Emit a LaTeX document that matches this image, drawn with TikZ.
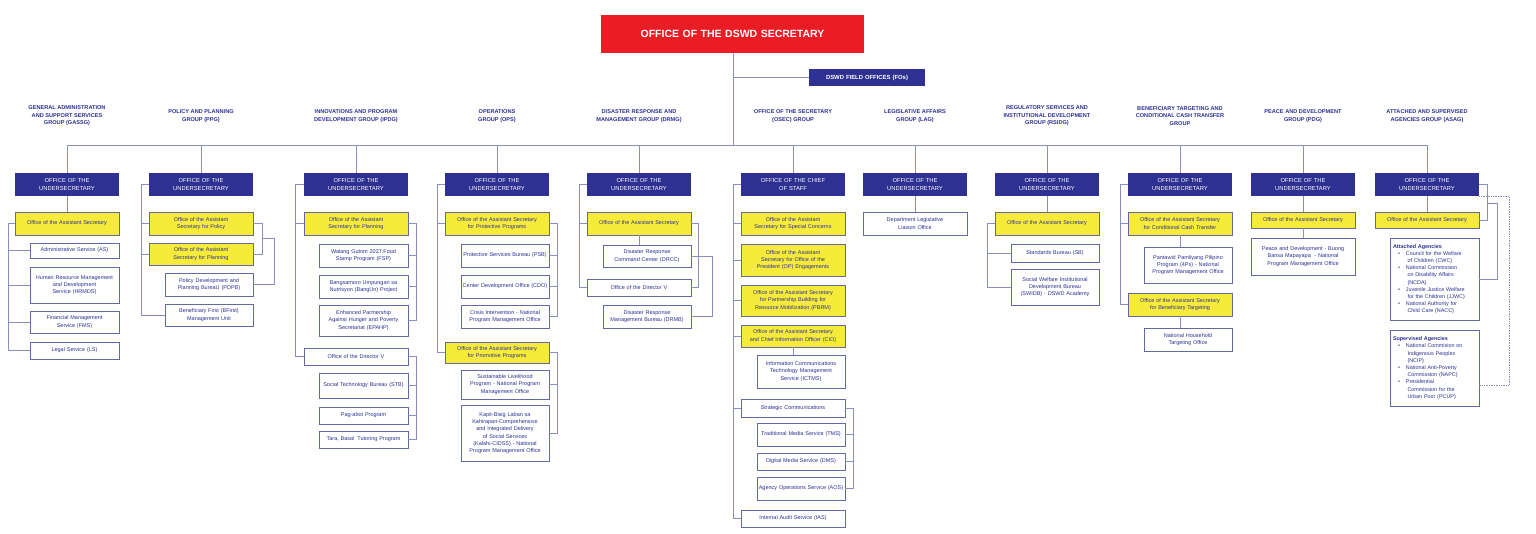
\documentclass[tikz,border=0pt]{standalone}
\usepackage{fontspec}
\setmainfont{Liberation Sans}
\usetikzlibrary{calc}
\hyphenpenalty10000\relax \exhyphenpenalty10000\relax
\newcommand\nohy{\hyphenpenalty10000\relax\exhyphenpenalty10000\relax}
\definecolor{navy}{HTML}{2E3192}
\definecolor{yel}{HTML}{F6EB3B}
\definecolor{redb}{HTML}{EC1C24}
\definecolor{linec}{HTML}{8A8EC2}
\definecolor{bord}{HTML}{6468A8}
\newcommand\bx[7]{\pgfmathsetmacro\bw{#5-#3}\pgfmathsetmacro\bh{#6-#4}\pgfmathsetmacro\btw{#5-#3-2}%
\node[minimum width=\bw pt,minimum height=\bh pt,text width=\btw pt,inner sep=0pt,align=center,#2] (#1) at ({(#3+#5)/2},{(#4+#6)/2}) {\nohy #7};}
\newcommand\ttl[4]{\node[ttlst] (#1) at (#2,#3) {#4};}
\begin{document}
\begin{tikzpicture}[x=1pt,y=-1pt,
  us/.style={fill=navy,text=white,font=\fontsize{5.8}{7}\selectfont},
  ys/.style={fill=yel,draw=bord,line width=0.4pt,text=navy,font=\fontsize{5.5}{7.2}\selectfont},
  ws/.style={fill=white,draw=bord,line width=0.4pt,text=navy,font=\fontsize{5.5}{7.2}\selectfont},
  ttlst/.style={align=center,text=navy,font=\bfseries\fontsize{5.6}{7.6}\selectfont,inner sep=0pt},
  ln/.style={draw=linec,line width=0.7pt}]
\useasboundingbox[fill=white] (0,0) rectangle (1536,533);
\coordinate (bus) at (0,145);
% top
\bx{sec}{fill=redb,text=white,font=\bfseries\fontsize{10.5}{12}\selectfont}{601}{15}{864}{53}{OFFICE OF THE DSWD SECRETARY}
\bx{fo}{fill=navy,text=white,font=\bfseries\fontsize{5.9}{7}\selectfont}{809}{69}{925}{86}{DSWD FIELD OFFICES (FOs)}
\coordinate (trk) at (733,53);
\draw[ln] (trk) -- (trk |- bus);
\draw[ln] (trk |- fo.west) -- (fo.west);
% titles
\ttl{t1}{67}{116}{GENERAL ADMINISTRATION\\AND SUPPORT SERVICES\\GROUP (GASSG)}
\ttl{t2}{201}{116}{POLICY AND PLANNING\\GROUP (PPG)}
\ttl{t3}{356}{116}{INNOVATIONS AND PROGRAM\\DEVELOPMENT GROUP (IPDG)}
\ttl{t4}{497}{116}{OPERATIONS\\GROUP (OPS)}
\ttl{t5}{639}{116}{DISASTER RESPONSE AND\\MANAGEMENT GROUP (DRMG)}
\ttl{t6}{793}{116}{OFFICE OF THE SECRETARY\\(OSEC) GROUP}
\ttl{t7}{915}{116}{LEGISLATIVE AFFAIRS\\GROUP (LAG)}
\ttl{t8}{1047}{116}{REGULATORY SERVICES AND\\INSTITUTIONAL DEVELOPMENT\\GROUP (RSIDG)}
\ttl{t9}{1180}{116}{BENEFICIARY TARGETING AND\\CONDITIONAL CASH TRANSFER\\GROUP}
\ttl{t10}{1303}{116}{PEACE AND DEVELOPMENT\\GROUP (PDG)}
\ttl{t11}{1427}{116}{ATTACHED AND SUPERVISED\\AGENCIES GROUP (ASAG)}
% undersecretary boxes
\bx{u1}{us}{15}{173}{119}{196}{OFFICE OF THE\\UNDERSECRETARY}
\bx{u2}{us}{149}{173}{253}{196}{OFFICE OF THE\\UNDERSECRETARY}
\bx{u3}{us}{304}{173}{408}{196}{OFFICE OF THE\\UNDERSECRETARY}
\bx{u4}{us}{445}{173}{549}{196}{OFFICE OF THE\\UNDERSECRETARY}
\bx{u5}{us}{587}{173}{691}{196}{OFFICE OF THE\\UNDERSECRETARY}
\bx{u6}{us}{741}{173}{845}{196}{OFFICE OF THE CHIEF\\OF STAFF}
\bx{u7}{us}{863}{173}{967}{196}{OFFICE OF THE\\UNDERSECRETARY}
\bx{u8}{us}{995}{173}{1099}{196}{OFFICE OF THE\\UNDERSECRETARY}
\bx{u9}{us}{1128}{173}{1232}{196}{OFFICE OF THE\\UNDERSECRETARY}
\bx{u10}{us}{1251}{173}{1355}{196}{OFFICE OF THE\\UNDERSECRETARY}
\bx{u11}{us}{1375}{173}{1479}{196}{OFFICE OF THE\\UNDERSECRETARY}
\draw[ln] (u1.north |- bus) -- (u11.north |- bus);
\foreach \i in {1,...,11} {\draw[ln] (u\i.north) -- (u\i.north |- bus);}
% G1 GASSG
\bx{g1y}{ys}{15}{212}{119}{235}{Office of the Assistant Secretary}
\bx{g1as}{ws}{30}{243}{119}{258}{Administrative Service (AS)}
\bx{g1hr}{ws}{30}{267}{119}{303}{Human Resource Management and Development Service (HRMDS)}
\bx{g1fm}{ws}{30}{311}{119}{333}{Financial Management Service (FMS)}
\bx{g1ls}{ws}{30}{342}{119}{359}{Legal Service (LS)}
\coordinate (L1) at (8,0);
\draw[ln] (u1.south) -- (g1y.north);
\draw[ln] (g1y.west) -- (g1y.west -| L1) |- (g1ls.west);
\foreach \n in {g1as,g1hr,g1fm} {\draw[ln] (\n.west) -- (\n.west -| L1);}
% G2 PPG
\bx{g2y1}{ys}{149}{212}{253}{235}{Office of the Assistant Secretary for Policy}
\bx{g2y2}{ys}{149}{243}{253}{265}{Office of the Assistant Secretary for Planning}
\bx{g2pd}{ws}{165}{273}{253}{296}{Policy Development and Planning BureaU (PDPB)}
\bx{g2bf}{ws}{165}{304}{253}{326}{Beneficiary First (BFirst) Management Unit}
\coordinate (L2) at (141,0); \coordinate (R2) at (262,0); \coordinate (R2b) at (274,0);
\draw[ln] (u2.west) -- (u2.west -| L2) |- (g2bf.west);
\foreach \n in {g2y1,g2y2} {\draw[ln] (\n.west) -- (\n.west -| L2);}
\draw[ln] (g2y1.east) -- (g2y1.east -| R2) |- (g2y2.east);
\path (g2y1.east -| R2) -- (g2y2.east -| R2) coordinate[midway] (m2);
\draw[ln] (m2) -- (m2 -| R2b) |- (g2pd.east);
% G3 IPDG
\bx{g3y}{ys}{304}{212}{408}{235}{Office of the Assistant Secretary for Planning}
\bx{g3fsp}{ws}{319}{244}{408}{267}{Walang Gutom 2027:Food Stamp Program (FSP)}
\bx{g3bg}{ws}{319}{275}{408}{298}{Bangsamoro Umpungan sa Nutrisyon (BangUn) Project}
\bx{g3ep}{ws}{319}{305}{408}{336}{Enhanced Partnership Against Hunger and Poverty Secretariat (EPAHP)}
\bx{g3dv}{ws}{304}{348}{408}{365}{Office of the Director V}
\bx{g3stb}{ws}{319}{373}{408}{398}{Social Technology Bureau (STB)}
\bx{g3pag}{ws}{319}{407}{408}{424}{Pag-abot Program}
\bx{g3tara}{ws}{319}{431}{408}{448}{Tara, Basa! Tutoring Program}
\coordinate (L3) at (295,0); \coordinate (R3) at (416,0);
\draw[ln] (u3.west) -- (u3.west -| L3) |- (g3dv.west);
\draw[ln] (g3y.west) -- (g3y.west -| L3);
\draw[ln] (g3y.east) -- (g3y.east -| R3) |- (g3ep.east);
\foreach \n in {g3fsp,g3bg} {\draw[ln] (\n.east) -- (\n.east -| R3);}
\draw[ln] (g3dv.east) -- (g3dv.east -| R3) |- (g3tara.east);
\foreach \n in {g3stb,g3pag} {\draw[ln] (\n.east) -- (\n.east -| R3);}
% G4 OPS
\bx{g4y1}{ys}{445}{212}{549}{235}{Office of the Assistant Secretary for Protective Programs}
\bx{g4psb}{ws}{461}{244}{549}{267}{Protective Services Bureau (PSB)}
\bx{g4cdo}{ws}{461}{275}{549}{298}{Center Development Office (CDO)}
\bx{g4ci}{ws}{461}{305}{549}{328}{Crisis Intervention - National Program Management Office}
\bx{g4y2}{ys}{445}{342}{549}{363}{Office of the Assistant Secretary for Promotive Programs}
\bx{g4slp}{ws}{461}{370}{549}{399}{Sustainable Livelihood Program - National Program Management Office}
\bx{g4kap}{ws}{461}{405}{549}{461}{Kapit-Bisig Laban sa Kahirapan-Comprehensive and Integrated Delivery of Social Services (Kalahi-CIDSS) - National Program Management Office}
\coordinate (L4) at (437,0); \coordinate (R4) at (557,0);
\draw[ln] (u4.west) -- (u4.west -| L4) |- (g4y2.west);
\draw[ln] (g4y1.west) -- (g4y1.west -| L4);
\draw[ln] (g4y1.east) -- (g4y1.east -| R4) |- (g4ci.east);
\foreach \n in {g4psb,g4cdo} {\draw[ln] (\n.east) -- (\n.east -| R4);}
\draw[ln] (g4y2.east) -- (g4y2.east -| R4) |- (g4kap.east);
\draw[ln] (g4slp.east) -- (g4slp.east -| R4);
% G5 DRMG
\bx{g5y}{ys}{587}{212}{691}{235}{Office of the Assistant Secretary}
\bx{g5drcc}{ws}{603}{245}{691}{267}{Disaster Response Command Center (DRCC)}
\bx{g5dv}{ws}{587}{279}{691}{296}{Office of the Director V}
\bx{g5drmb}{ws}{603}{305}{691}{328}{Disaster Response Management Bureau (DRMB)}
\coordinate (L5) at (579,0); \coordinate (R5) at (698,0); \coordinate (R5b) at (712,0);
\draw[ln] (u5.west) -- (u5.west -| L5) |- (g5dv.west);
\draw[ln] (g5y.west) -- (g5y.west -| L5);
\draw[ln] (g5y.south) -- (g5y.south |- g5drcc.north);
\draw[ln] (g5y.east) -- (g5y.east -| R5) |- (g5dv.east);
\draw[ln] (g5drcc.east) -- (g5drcc.east -| R5b) |- (g5drmb.east);
% G6 OSEC
\bx{g6y1}{ys}{741}{212}{845}{235}{Office of the Assistant Secretary for Special Concerns}
\bx{g6y2}{ys}{741}{244}{845}{276}{Office of the Assistant Secretary for Office of the President (OP) Engagements}
\bx{g6y3}{ys}{741}{285}{845}{316}{Office of the Assistant Secretary for Partnership Building for Resource Mobilization (PBRM)}
\bx{g6y4}{ys}{741}{325}{845}{347}{Office of the Assistant Secretary and Chief Information Officer (CIO)}
\bx{g6ict}{ws}{757}{355}{845}{388}{Information Communications Technology Management Service (ICTMS)}
\bx{g6sc}{ws}{741}{399}{845}{417}{Strategic Communications}
\bx{g6tms}{ws}{757}{423}{845}{446}{Traditional Media Service (TMS)}
\bx{g6dms}{ws}{757}{453}{845}{470}{Digital Media Service (DMS)}
\bx{g6aos}{ws}{757}{477}{845}{500}{Agency Operations Service (AOS)}
\bx{g6ias}{ws}{741}{510}{845}{527}{Internal Audit Service (IAS)}
\coordinate (L6) at (733,0); \coordinate (R6) at (853,0);
\draw[ln] (u6.west) -- (u6.west -| L6) |- (g6ias.west);
\foreach \n in {g6y1,g6y2,g6y3,g6y4,g6sc} {\draw[ln] (\n.west) -- (\n.west -| L6);}
\draw[ln] (g6y4.south) -- (g6y4.south |- g6ict.north);
\draw[ln] (g6sc.east) -- (g6sc.east -| R6) |- (g6aos.east);
\foreach \n in {g6tms,g6dms} {\draw[ln] (\n.east) -- (\n.east -| R6);}
% G7 LAG
\bx{g7o}{ws}{863}{212}{967}{235}{Department Legislative\\Liaison Office}
\draw[ln] (u7.south) -- (g7o.north);
% G8 RSIDG
\bx{g8y}{ys}{995}{212}{1099}{235}{Office of the Assistant Secretary}
\bx{g8sb}{ws}{1011}{244}{1099}{262}{Standards Bureau (SB)}
\bx{g8sw}{ws}{1011}{269}{1099}{305}{Social Welfare Institutional Development Bureau (SWIDB) - DSWD Academy}
\coordinate (L8) at (987,0);
\draw[ln] (u8.south) -- (g8y.north);
\draw[ln] (g8y.west) -- (g8y.west -| L8) |- (g8sw.west);
\draw[ln] (g8sb.west) -- (g8sb.west -| L8);
% G9 BT
\bx{g9y1}{ys}{1128}{212}{1232}{235}{Office of the Assistant Secretary for Conditional Cash Transfer}
\bx{g9ps}{ws}{1144}{247}{1232}{283}{Pantawid Pamilyang Pilipino Program (4Ps) - National Program Management Office}
\bx{g9y2}{ys}{1128}{293}{1232}{316}{Office of the Assistant Secretary for Beneficiary Targeting}
\bx{g9nh}{ws}{1144}{328}{1232}{351}{National Household Targeting Office}
\coordinate (L9) at (1120,0);
\draw[ln] (u9.west) -- (u9.west -| L9) |- (g9y2.west);
\draw[ln] (g9y1.west) -- (g9y1.west -| L9);
\draw[ln] (g9y1.south) -- (g9y1.south |- g9ps.north);
\draw[ln] (g9y2.south) -- (g9y2.south |- g9nh.north);
% G10 PDG
\bx{g10y}{ys}{1251}{212}{1355}{228}{Office of the Assistant Secretary}
\bx{g10pd}{ws}{1251}{238}{1355}{275}{Peace and Development - Buong Bansa Mapayapa \ - National Program Management Office}
\draw[ln] (u10.south) -- (g10y.north);
\draw[ln] (g10y.south) -- (g10pd.north);
% G11 ASAG
\bx{g11y}{ys}{1375}{212}{1479}{228}{Office of the Assistant Secretary}
\bx{g11at}{ws,align=left,inner xsep=3pt,text width=83pt,font=\fontsize{5.4}{7.2}\selectfont}{1390}{238}{1479}{320}{\textbf{Attached Agencies}\\
\hspace*{5pt}\textbullet\hspace{6pt}Council for the Welfare\\\hspace*{14.5pt}of Children (CWC)\\
\hspace*{5pt}\textbullet\hspace{6pt}National Commission\\\hspace*{14.5pt}on Disability Affairs\\\hspace*{14.5pt}(NCDA)\\
\hspace*{5pt}\textbullet\hspace{6pt}Juvenile Justice Welfare\\\hspace*{14.5pt}for the Children (JJWC)\\
\hspace*{5pt}\textbullet\hspace{6pt}National Authority for\\\hspace*{14.5pt}Child Care (NACC)}
\bx{g11sv}{ws,align=left,inner xsep=3pt,text width=83pt,font=\fontsize{5.4}{7.2}\selectfont}{1390}{330}{1479}{406}{\textbf{Supervised Agencies}\\
\hspace*{5pt}\textbullet\hspace{6pt}National Commision on\\\hspace*{14.5pt}Indigenous Peoples\\\hspace*{14.5pt}(NCIP)\\
\hspace*{5pt}\textbullet\hspace{6pt}National Anti-Poverty\\\hspace*{14.5pt}Commission (NAPC)\\
\hspace*{5pt}\textbullet\hspace{6pt}Presidential\\\hspace*{14.5pt}Commission for the\\\hspace*{14.5pt}Urban Poor (PCUP)}
\coordinate (R11) at (1487,203); \coordinate (R11b) at (1497,0); \coordinate (R11c) at (1509,0);
\draw[ln] (u11.south) -- (g11y.north);
\draw[ln] (u11.east) -- (u11.east -| R11) |- (g11y.east);
\draw[ln] (R11) -- (R11 -| R11b) |- (g11at.east);
\draw[ln,densely dotted] (u11.south east) -- (u11.south east -| R11c) |- ([yshift=-17pt]g11sv.east);
\end{tikzpicture}
\end{document}
